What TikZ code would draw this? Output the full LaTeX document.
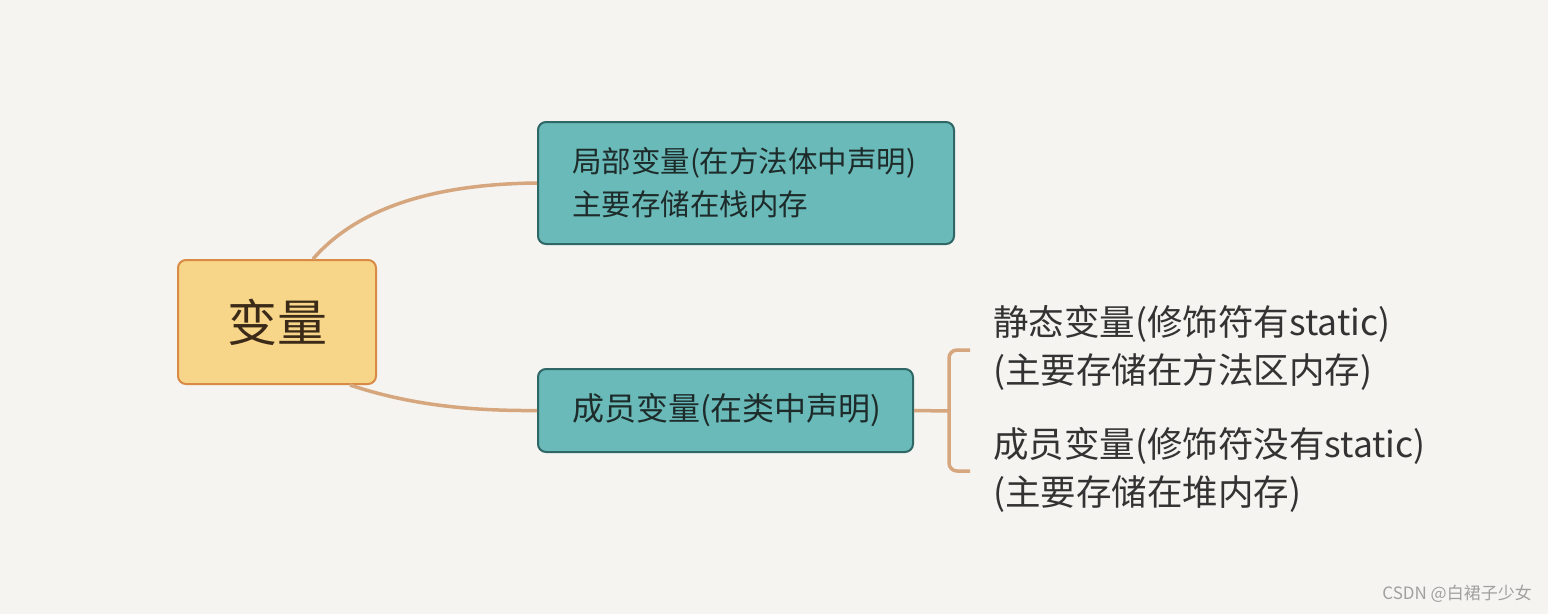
\documentclass[tikz,border=0pt]{standalone}
\usepackage{fontspec}
\setmainfont{Noto Sans CJK SC}
\definecolor{bgc}{HTML}{F5F4F0}
\definecolor{rootfill}{HTML}{F8D689}
\definecolor{rootdraw}{HTML}{D98A45}
\definecolor{roottext}{HTML}{3B2A18}
\definecolor{tealfill}{HTML}{69BAB8}
\definecolor{tealdraw}{HTML}{2E6765}
\definecolor{tealtext}{HTML}{1E2B2B}
\definecolor{linkc}{HTML}{D6A77E}
\definecolor{plaintext}{HTML}{333333}
\definecolor{markc}{HTML}{A0A0A0}
\tikzset{
  rootbox/.style={draw=rootdraw, fill=rootfill, line width=2pt, rounded corners=8pt,
    minimum width=198pt, minimum height=124pt, text=roottext,
    font=\fontsize{50pt}{54pt}\selectfont, inner sep=0pt},
  tealbox/.style={draw=tealdraw, fill=tealfill, line width=2pt, rounded corners=8pt,
    text=tealtext, align=left, inner xsep=34pt, inner ysep=0pt},
  leaftext/.style={text=plaintext, align=left, anchor=west, inner sep=0pt,
    font=\fontsize{35.5pt}{48pt}\selectfont},
  link/.style={draw=linkc, line width=3.5pt},
  bracket/.style={draw=linkc, line width=3.5pt, rounded corners=8pt}
}
\begin{document}
\begin{tikzpicture}[x=1pt,y=-1pt]
\fill[bgc] (0,0) rectangle (1548,614);
\useasboundingbox (0,0) rectangle (1548,614);

\node[rootbox] (root) at (277,322) {变量};
\node[tealbox, text width=348pt, minimum height=122pt,
  font=\fontsize{29.5pt}{43pt}\selectfont] (local) at (746,183)
  {局部变量(在方法体中声明)\\主要存储在栈内存};
\node[tealbox, text width=307pt, minimum height=83pt,
  font=\fontsize{32pt}{40pt}\selectfont] (member) at (725.5,410.5)
  {成员变量(在类中声明)};

\coordinate (rtop) at ([xshift=36pt]root.north);
\coordinate (rbot) at ([xshift=73pt]root.south);
\draw[link] (rtop) .. controls (360,205) and (440,184) .. (local.west);
\draw[link] (rbot) .. controls (410,405) and (470,411) .. (member.west);

\coordinate (bmid) at (949,411);
\coordinate (btop) at (970,350);
\coordinate (bbot) at (970,471);
\draw[link] (member.east) -- (bmid);
\draw[bracket] (btop) -- (949,350) -- (949,471) -- (bbot);

\node[leaftext] (static) at (993,348) {静态变量(修饰符有static)\\(主要存储在方法区内存)};
\node[leaftext] (instance) at (993,470) {成员变量(修饰符没有static)\\(主要存储在堆内存)};

\node[text=markc, anchor=east, inner sep=0pt, font=\fontsize{17pt}{20pt}\selectfont]
  (mark) at (1532,594) {CSDN @白裙子少女};
\end{tikzpicture}
\end{document}
